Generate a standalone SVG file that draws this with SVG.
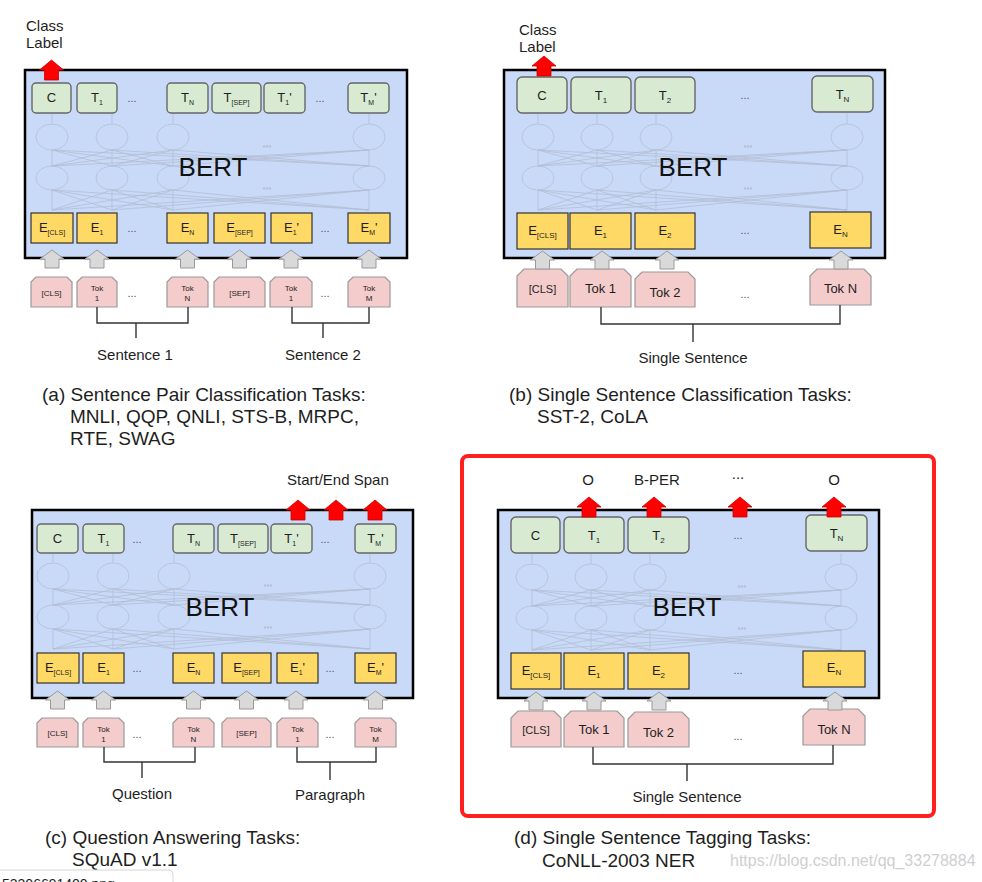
<svg xmlns="http://www.w3.org/2000/svg" width="982" height="882" viewBox="0 0 982 882">
<style>
text{font-family:"Liberation Sans",Arial,Helvetica,sans-serif;fill:#1e1e1e}
.bert{fill:#c9daf8;stroke:#000;stroke-width:2.5}
.t{fill:#d9ead3;stroke:#666;stroke-width:1.4}
.e{fill:#ffd966;stroke:#333;stroke-width:1.2}
.tok{fill:#f4cccc;stroke:#999;stroke-width:1.2}
.net{fill:none;stroke:#b3bed3;stroke-width:0.8}
.br{fill:none;stroke:#333;stroke-width:1.4}
.ra{fill:#ff0000;stroke:#cc0000;stroke-width:0.8}
.ga{fill:#d9d9d9;stroke:#999;stroke-width:1}
.m{font-size:13px;text-anchor:middle}
.sb{font-size:7px}
.sb8{font-size:8px}
.s8{font-size:8px;text-anchor:middle}
.s11{font-size:11px;text-anchor:middle}
.l{font-size:15px}
.c{text-anchor:middle}
.cap{font-size:19px}
.d{font-size:11px;text-anchor:middle;fill:#555}
.nd{font-size:11px;text-anchor:middle;fill:#adb8cc}
.bt{font-size:26px;text-anchor:middle;fill:#111}
.wm{font-size:16px;fill:#cfcfcf}
</style>
<defs>
<path id="ra" class="ra" d="M0,0 L12,10 L7,10 L7,20 L-7,20 L-7,10 L-12,10 Z"/>
<path id="ga" class="ga" d="M0,0 L12,9 L7,9 L7,18 L-7,18 L-7,9 L-12,9 Z"/>
<g id="netA" class="net">
<path d="M0 0V11M60 0V11M121 0V11M317 0V11M0 53L0 37M0 53L60 37M0 53L121 37M0 53L317 37M60 53L0 37M60 53L60 37M60 53L121 37M60 53L317 37M121 53L0 37M121 53L60 37M121 53L121 37M121 53L317 37M317 53L0 37M317 53L60 37M317 53L121 37M317 53L317 37M0 97L0 77M0 97L60 77M0 97L121 77M0 97L317 77M60 97L0 77M60 97L60 77M60 97L121 77M60 97L317 77M121 97L0 77M121 97L60 77M121 97L121 77M121 97L317 77M317 97L0 77M317 97L60 77M317 97L121 77M317 97L317 77"/>
<ellipse cx="0" cy="24" rx="16" ry="13"/><ellipse cx="60" cy="24" rx="16" ry="13"/><ellipse cx="121" cy="24" rx="16" ry="13"/><ellipse cx="317" cy="24" rx="16" ry="13"/>
<ellipse cx="0" cy="65" rx="16" ry="12"/><ellipse cx="60" cy="65" rx="16" ry="12"/><ellipse cx="121" cy="65" rx="16" ry="12"/><ellipse cx="317" cy="65" rx="16" ry="12"/>
<text class="nd" x="215" y="34">...</text><text class="nd" x="215" y="76">...</text>
</g>
<g id="netB" class="net">
<path d="M0 0V11M59 0V11M118 0V11M309 0V11M0 53L0 37M0 53L59 37M0 53L118 37M0 53L309 37M59 53L0 37M59 53L59 37M59 53L118 37M59 53L309 37M118 53L0 37M118 53L59 37M118 53L118 37M118 53L309 37M309 53L0 37M309 53L59 37M309 53L118 37M309 53L309 37M0 97L0 77M0 97L59 77M0 97L118 77M0 97L309 77M59 97L0 77M59 97L59 77M59 97L118 77M59 97L309 77M118 97L0 77M118 97L59 77M118 97L118 77M118 97L309 77M309 97L0 77M309 97L59 77M309 97L118 77M309 97L309 77"/>
<ellipse cx="0" cy="24" rx="16" ry="13"/><ellipse cx="59" cy="24" rx="16" ry="13"/><ellipse cx="118" cy="24" rx="16" ry="13"/><ellipse cx="309" cy="24" rx="16" ry="13"/>
<ellipse cx="0" cy="65" rx="16" ry="12"/><ellipse cx="59" cy="65" rx="16" ry="12"/><ellipse cx="118" cy="65" rx="16" ry="12"/><ellipse cx="309" cy="65" rx="16" ry="12"/>
<text class="nd" x="210" y="34">...</text><text class="nd" x="210" y="76">...</text>
</g>
</defs>
<rect width="982" height="882" fill="#fff"/>

<!-- ===== Panel (a) ===== -->
<g id="panel-a">
<g id="a-bert"><rect class="bert" x="25" y="70" width="382" height="188"/><use href="#netA" x="52" y="113"/><text class="bt" x="213" y="176">BERT</text></g>
<g id="a-classlabel"><text class="l" x="26" y="31">Class</text><text class="l" x="26" y="48">Label</text></g>
<g id="a-C"><rect class="t" x="32" y="83" width="39" height="30" rx="4"/><text class="m" x="51.5" y="102">C</text></g>
<g id="a-T1"><rect class="t" x="77" y="83" width="40" height="30" rx="4"/><text class="m" x="97" y="102">T<tspan class="sb" dy="3">1</tspan></text></g>
<text class="d" x="132" y="102">...</text>
<g id="a-TN"><rect class="t" x="167" y="83" width="41" height="30" rx="4"/><text class="m" x="187.5" y="102">T<tspan class="sb" dy="3">N</tspan></text></g>
<g id="a-TSEP"><rect class="t" x="212" y="83" width="49" height="30" rx="4"/><text class="m" x="236.5" y="102">T<tspan class="sb" dy="3">[SEP]</tspan></text></g>
<g id="a-T1p"><rect class="t" x="264" y="83" width="41" height="30" rx="4"/><text class="m" x="284.5" y="102">T<tspan class="sb" dy="3">1</tspan><tspan dy="-3">'</tspan></text></g>
<text class="d" x="320" y="102">...</text>
<g id="a-TMp"><rect class="t" x="348" y="83" width="41" height="30" rx="4"/><text class="m" x="368.5" y="102">T<tspan class="sb" dy="3">M</tspan><tspan dy="-3">'</tspan></text></g>

<g id="a-ECLS"><rect class="e" x="31" y="213" width="42" height="30"/><text class="m" x="52" y="232">E<tspan class="sb" dy="3">[CLS]</tspan></text></g>
<g id="a-E1"><rect class="e" x="77" y="213" width="40" height="30"/><text class="m" x="97" y="232">E<tspan class="sb" dy="3">1</tspan></text></g>
<text class="d" x="132" y="232">...</text>
<g id="a-EN"><rect class="e" x="167" y="213" width="41" height="30"/><text class="m" x="187.5" y="232">E<tspan class="sb" dy="3">N</tspan></text></g>
<g id="a-ESEP"><rect class="e" x="214" y="213" width="51" height="30"/><text class="m" x="239.5" y="232">E<tspan class="sb" dy="3">[SEP]</tspan></text></g>
<g id="a-E1p"><rect class="e" x="271" y="213" width="41" height="30"/><text class="m" x="291.5" y="232">E<tspan class="sb" dy="3">1</tspan><tspan dy="-3">'</tspan></text></g>
<text class="d" x="325" y="232">...</text>
<g id="a-EMp"><rect class="e" x="348" y="213" width="42" height="30"/><text class="m" x="369" y="232">E<tspan class="sb" dy="3">M</tspan><tspan dy="-3">'</tspan></text></g>

<g id="a-tokCLS"><path class="tok" d="M31 307V282L36 277H67L72 282V307Z"/><text class="s8" x="51.5" y="296">[CLS]</text></g>
<g id="a-tok1"><path class="tok" d="M77 307V282L82 277H112L117 282V307Z"/><text class="s8" x="97" y="291">Tok</text><text class="s8" x="97" y="301">1</text></g>
<text class="d" x="132" y="297">...</text>
<g id="a-tokN"><path class="tok" d="M167 307V282L172 277H203L208 282V307Z"/><text class="s8" x="187.5" y="291">Tok</text><text class="s8" x="187.5" y="301">N</text></g>
<g id="a-tokSEP"><path class="tok" d="M214 307V282L219 277H260L265 282V307Z"/><text class="s8" x="239.5" y="296">[SEP]</text></g>
<g id="a-tok1p"><path class="tok" d="M270 307V282L275 277H307L312 282V307Z"/><text class="s8" x="291" y="291">Tok</text><text class="s8" x="291" y="301">1</text></g>
<text class="d" x="325" y="297">...</text>
<g id="a-tokM"><path class="tok" d="M348 307V282L353 277H385L390 282V307Z"/><text class="s8" x="369" y="291">Tok</text><text class="s8" x="369" y="301">M</text></g>

<g id="a-sent1"><text class="l c" x="135" y="360">Sentence 1</text></g>
<g id="a-sent2"><text class="l c" x="323" y="360">Sentence 2</text></g>
<g id="a-caption"><text class="cap" x="42" y="401">(a) Sentence Pair Classification Tasks:</text><text class="cap" x="70" y="423">MNLI, QQP, QNLI, STS-B, MRPC,</text><text class="cap" x="70" y="445">RTE, SWAG</text></g>
<g id="a-connectors">
<use href="#ra" x="51.5" y="60"/>
<use href="#ga" x="52" y="250"/><use href="#ga" x="97" y="250"/><use href="#ga" x="187.5" y="250"/><use href="#ga" x="239.5" y="250"/><use href="#ga" x="291" y="250"/><use href="#ga" x="369" y="250"/>
<path class="br" d="M97 307V323H188V307M136 323V338M292 307V323H369V307M323 323V338"/>
</g>
</g>

<!-- ===== Panel (b) ===== -->
<g id="panel-b">
<g id="b-bert"><rect class="bert" x="504" y="70" width="381" height="188"/><use href="#netB" x="538" y="113"/><text class="bt" x="693" y="176">BERT</text></g>
<g id="b-classlabel"><text class="l" x="519" y="35">Class</text><text class="l" x="519" y="52">Label</text></g>
<g id="b-C"><rect class="t" x="517" y="77" width="50" height="36" rx="5"/><text class="m" x="542" y="100">C</text></g>
<g id="b-T1"><rect class="t" x="571" y="77" width="60" height="36" rx="5"/><text class="m" x="601" y="100">T<tspan class="sb8" dy="3">1</tspan></text></g>
<g id="b-T2"><rect class="t" x="635" y="77" width="60" height="36" rx="5"/><text class="m" x="665" y="100">T<tspan class="sb8" dy="3">2</tspan></text></g>
<text class="d" x="745" y="99">...</text>
<g id="b-TN"><rect class="t" x="812" y="76" width="61" height="36" rx="5"/><text class="m" x="842.5" y="99">T<tspan class="sb8" dy="3">N</tspan></text></g>

<g id="b-ECLS"><rect class="e" x="517" y="213" width="51" height="36"/><text class="m" x="542.5" y="235">E<tspan class="sb8" dy="3">[CLS]</tspan></text></g>
<g id="b-E1"><rect class="e" x="570" y="213" width="61" height="36"/><text class="m" x="600.5" y="235">E<tspan class="sb8" dy="3">1</tspan></text></g>
<g id="b-E2"><rect class="e" x="635" y="213" width="60" height="36"/><text class="m" x="665" y="235">E<tspan class="sb8" dy="3">2</tspan></text></g>
<text class="d" x="745" y="234">...</text>
<g id="b-EN"><rect class="e" x="810" y="212" width="61" height="36"/><text class="m" x="840.5" y="234">E<tspan class="sb8" dy="3">N</tspan></text></g>

<g id="b-tokCLS"><path class="tok" d="M517 307V276L524 269H561L568 276V307Z"/><text class="s11" x="542.5" y="293">[CLS]</text></g>
<g id="b-tok1"><path class="tok" d="M570 307V276L577 269H624L631 276V307Z"/><text class="m" x="600.5" y="293">Tok 1</text></g>
<g id="b-tok2"><path class="tok" d="M635 307V279L642 272H688L695 279V307Z"/><text class="m" x="665" y="297">Tok 2</text></g>
<text class="d" x="745" y="298">...</text>
<g id="b-tokN"><path class="tok" d="M810 305V276L817 269H864L871 276V305Z"/><text class="m" x="840.5" y="293">Tok N</text></g>

<g id="b-sent"><text class="l c" x="693" y="363">Single Sentence</text></g>
<g id="b-caption"><text class="cap" x="509" y="401">(b) Single Sentence Classification Tasks:</text><text class="cap" x="537" y="423">SST-2, CoLA</text></g>
<g id="b-connectors">
<use href="#ra" x="544" y="56"/>
<use href="#ga" x="542.5" y="251"/><use href="#ga" x="602" y="251"/><use href="#ga" x="667" y="251"/><use href="#ga" x="841" y="251"/>
<path class="br" d="M601 307V324H840V305M693 324V342"/>
</g>
</g>

<!-- ===== Panel (c) ===== -->
<g id="panel-c">
<g id="c-bert"><rect class="bert" x="32" y="510" width="381" height="188"/><use href="#netA" x="53" y="552"/><text class="bt" x="220" y="616">BERT</text></g>
<g id="c-span"><text class="l" x="287" y="485">Start/End Span</text></g>
<g id="c-C"><rect class="t" x="37" y="524" width="41" height="29" rx="4"/><text class="m" x="57.5" y="543">C</text></g>
<g id="c-T1"><rect class="t" x="83" y="524" width="41" height="29" rx="4"/><text class="m" x="103.5" y="543">T<tspan class="sb" dy="3">1</tspan></text></g>
<text class="d" x="137" y="543">...</text>
<g id="c-TN"><rect class="t" x="173" y="524" width="41" height="29" rx="4"/><text class="m" x="193.5" y="543">T<tspan class="sb" dy="3">N</tspan></text></g>
<g id="c-TSEP"><rect class="t" x="218" y="524" width="50" height="29" rx="4"/><text class="m" x="243" y="543">T<tspan class="sb" dy="3">[SEP]</tspan></text></g>
<g id="c-T1p"><rect class="t" x="271" y="524" width="41" height="29" rx="4"/><text class="m" x="291.5" y="543">T<tspan class="sb" dy="3">1</tspan><tspan dy="-3">'</tspan></text></g>
<text class="d" x="325" y="543">...</text>
<g id="c-TMp"><rect class="t" x="355" y="524" width="41" height="29" rx="4"/><text class="m" x="375.5" y="543">T<tspan class="sb" dy="3">M</tspan><tspan dy="-3">'</tspan></text></g>

<g id="c-ECLS"><rect class="e" x="37" y="653" width="42" height="30"/><text class="m" x="58" y="672">E<tspan class="sb" dy="3">[CLS]</tspan></text></g>
<g id="c-E1"><rect class="e" x="83" y="653" width="41" height="30"/><text class="m" x="103.5" y="672">E<tspan class="sb" dy="3">1</tspan></text></g>
<text class="d" x="137" y="672">...</text>
<g id="c-EN"><rect class="e" x="173" y="653" width="41" height="30"/><text class="m" x="193.5" y="672">E<tspan class="sb" dy="3">N</tspan></text></g>
<g id="c-ESEP"><rect class="e" x="222" y="653" width="49" height="30"/><text class="m" x="246.5" y="672">E<tspan class="sb" dy="3">[SEP]</tspan></text></g>
<g id="c-E1p"><rect class="e" x="277" y="653" width="41" height="30"/><text class="m" x="297.5" y="672">E<tspan class="sb" dy="3">1</tspan><tspan dy="-3">'</tspan></text></g>
<text class="d" x="330" y="672">...</text>
<g id="c-EMp"><rect class="e" x="355" y="653" width="41" height="30"/><text class="m" x="375.5" y="672">E<tspan class="sb" dy="3">M</tspan><tspan dy="-3">'</tspan></text></g>

<g id="c-tokCLS"><path class="tok" d="M37 747V723L42 718H73L78 723V747Z"/><text class="s8" x="57.5" y="736">[CLS]</text></g>
<g id="c-tok1"><path class="tok" d="M83 747V723L88 718H119L124 723V747Z"/><text class="s8" x="103.5" y="732">Tok</text><text class="s8" x="103.5" y="742">1</text></g>
<text class="d" x="137" y="738">...</text>
<g id="c-tokN"><path class="tok" d="M173 747V723L178 718H209L214 723V747Z"/><text class="s8" x="193.5" y="732">Tok</text><text class="s8" x="193.5" y="742">N</text></g>
<g id="c-tokSEP"><path class="tok" d="M222 747V723L227 718H266L271 723V747Z"/><text class="s8" x="246.5" y="736">[SEP]</text></g>
<g id="c-tok1p"><path class="tok" d="M277 747V723L282 718H313L318 723V747Z"/><text class="s8" x="297.5" y="732">Tok</text><text class="s8" x="297.5" y="742">1</text></g>
<text class="d" x="330" y="738">...</text>
<g id="c-tokM"><path class="tok" d="M355 747V723L360 718H391L396 723V747Z"/><text class="s8" x="375.5" y="732">Tok</text><text class="s8" x="375.5" y="742">M</text></g>

<g id="c-question"><text class="l c" x="142" y="799">Question</text></g>
<g id="c-paragraph"><text class="l c" x="330" y="800">Paragraph</text></g>
<g id="c-caption"><text class="cap" x="45" y="844">(c) Question Answering Tasks:</text><text class="cap" x="72" y="866">SQuAD v1.1</text></g>
<g id="c-connectors">
<use href="#ra" x="298" y="500"/><use href="#ra" x="336" y="500"/><use href="#ra" x="375" y="500"/>
<use href="#ga" x="57.5" y="691"/><use href="#ga" x="103.5" y="691"/><use href="#ga" x="193.5" y="691"/><use href="#ga" x="246.5" y="691"/><use href="#ga" x="296" y="691"/><use href="#ga" x="375.5" y="691"/>
<path class="br" d="M104 747V762H195V747M142 762V778M297 747V762H376V747M330 762V780"/>
</g>
</g>

<!-- ===== Panel (d) ===== -->
<g id="panel-d">
<rect id="d-frame" x="462" y="456" width="472" height="360" rx="6" fill="none" stroke="#ff1f1f" stroke-width="4"/>
<g id="d-bert"><rect class="bert" x="498" y="510" width="381" height="188"/><use href="#netB" x="532" y="553"/><text class="bt" x="687" y="616">BERT</text></g>
<g id="d-labels"><text class="l c" x="588" y="485">O</text><text class="l c" x="657" y="485">B-PER</text><text class="l c" x="738" y="479">...</text><text class="l c" x="834" y="485">O</text></g>
<g id="d-C"><rect class="t" x="511" y="517" width="49" height="36" rx="5"/><text class="m" x="535.5" y="540">C</text></g>
<g id="d-T1"><rect class="t" x="564" y="517" width="60" height="36" rx="5"/><text class="m" x="594" y="540">T<tspan class="sb8" dy="3">1</tspan></text></g>
<g id="d-T2"><rect class="t" x="628" y="517" width="61" height="36" rx="5"/><text class="m" x="658.5" y="540">T<tspan class="sb8" dy="3">2</tspan></text></g>
<text class="d" x="738" y="539">...</text>
<g id="d-TN"><rect class="t" x="806" y="515" width="61" height="36" rx="5"/><text class="m" x="836.5" y="538">T<tspan class="sb8" dy="3">N</tspan></text></g>

<g id="d-ECLS"><rect class="e" x="511" y="653" width="50" height="36"/><text class="m" x="536" y="675">E<tspan class="sb8" dy="3">[CLS]</tspan></text></g>
<g id="d-E1"><rect class="e" x="564" y="653" width="60" height="36"/><text class="m" x="594" y="675">E<tspan class="sb8" dy="3">1</tspan></text></g>
<g id="d-E2"><rect class="e" x="628" y="653" width="61" height="36"/><text class="m" x="658.5" y="675">E<tspan class="sb8" dy="3">2</tspan></text></g>
<text class="d" x="738" y="674">...</text>
<g id="d-EN"><rect class="e" x="803" y="651" width="62" height="36"/><text class="m" x="834" y="672">E<tspan class="sb8" dy="3">N</tspan></text></g>

<g id="d-tokCLS"><path class="tok" d="M511 747V718L518 711H554L561 718V747Z"/><text class="s11" x="536" y="734">[CLS]</text></g>
<g id="d-tok1"><path class="tok" d="M564 747V718L571 711H617L624 718V747Z"/><text class="m" x="594" y="734">Tok 1</text></g>
<g id="d-tok2"><path class="tok" d="M628 747V719L635 712H682L689 719V747Z"/><text class="m" x="658.5" y="737">Tok 2</text></g>
<text class="d" x="738" y="740">...</text>
<g id="d-tokN"><path class="tok" d="M803 745V716L810 709H858L865 716V745Z"/><text class="m" x="834" y="734">Tok N</text></g>

<g id="d-sent"><text class="l c" x="687" y="802">Single Sentence</text></g>
<g id="d-caption"><text class="cap" x="514" y="844">(d) Single Sentence Tagging Tasks:</text><text class="cap" x="542" y="867">CoNLL-2003 NER</text></g>
<g id="d-connectors">
<use href="#ra" x="589" y="497"/><use href="#ra" x="654" y="497"/><use href="#ra" x="740" y="497"/><use href="#ra" x="834" y="497"/>
<use href="#ga" x="536" y="692"/><use href="#ga" x="594" y="692"/><use href="#ga" x="659" y="692"/><use href="#ga" x="835" y="692"/>
<path class="br" d="M593 747V764H833V745M687 764V781"/>
</g>
</g>

<text class="wm" x="730" y="866">https://blog.csdn.net/qq_33278884</text>
<g id="tab"><rect x="-4" y="870" width="177" height="24" rx="4" fill="#fff" stroke="#d6d6d6"/><text x="2" y="889" font-size="14" fill="#555">53306691400.png</text></g>
</svg>
